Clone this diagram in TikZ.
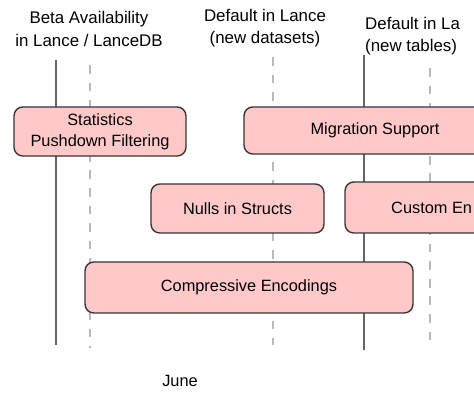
\documentclass[tikz,border=0pt]{standalone}
\usepackage{fontspec}
\setmainfont{Liberation Sans}
\usepackage{xcolor}
\usetikzlibrary{positioning}
\definecolor{taskpink}{HTML}{FFC9C9}
\definecolor{inkdark}{HTML}{3A3333}

\begin{document}
\begin{tikzpicture}[x=0.02cm,y=-0.02cm,font=\fontsize{9.3}{12}\selectfont,
  task/.style={draw=inkdark,thick,fill=taskpink,rounded corners=5pt,align=center,inner sep=2pt},
  mile/.style={gray!80!black,line width=0.9pt},
  tick/.style={gray!55,line width=0.6pt,dash pattern=on 5pt off 5pt},
  lbl/.style={align=center,font=\fontsize{9.6}{12.6}\selectfont}]
\useasboundingbox (0,0) rectangle (474,404);
\clip (0,0) rectangle (474,404);
% milestone and month lines (behind the boxes)
\coordinate (m1t) at (56,60);  \coordinate (m1b) at (56,345);
\coordinate (d1t) at (90,65);  \coordinate (d1b) at (90,348);
\coordinate (d2t) at (273,57); \coordinate (d2b) at (273,345);
\coordinate (m2t) at (364,55); \coordinate (m2b) at (364,350);
\coordinate (d3t) at (430,68); \coordinate (d3b) at (430,345);
\draw[mile] (m1t)--(m1b); \draw[mile] (m2t)--(m2b);
\draw[tick] (d1t)--(d1b); \draw[tick] (d2t)--(d2b); \draw[tick] (d3t)--(d3b);
% milestone labels
\node[lbl] (beta) at (89,29) {Beta Availability\\in Lance / LanceDB};
\node[lbl] (dset) at (265,28) {Default in Lance\\(new datasets)};
\node[lbl,align=left,anchor=west] (dtab) at (359,36) {Default in La\\(new tables)};
% work items
\node[task,minimum width=3.44cm,minimum height=0.98cm] (stats) at (100,131.5) {Statistics\\Pushdown Filtering};
\node[task,minimum width=5.24cm,minimum height=0.94cm] (migr) at (375,130.5) {Migration Support};
\node[task,minimum width=3.46cm,minimum height=0.98cm] (nulls) at (237.5,208.5) {Nulls in Structs};
\node[task,minimum width=4.32cm,minimum height=1.02cm] (cust) at (453,207.5) {};
\node[anchor=west] (custtxt) at (385,207.5) {Custom En};
\node[task,minimum width=6.56cm,minimum height=1.02cm] (comp) at (249,287.5) {Compressive Encodings};
% month
\node (june) at (180,381) {June};
\end{tikzpicture}
\end{document}
